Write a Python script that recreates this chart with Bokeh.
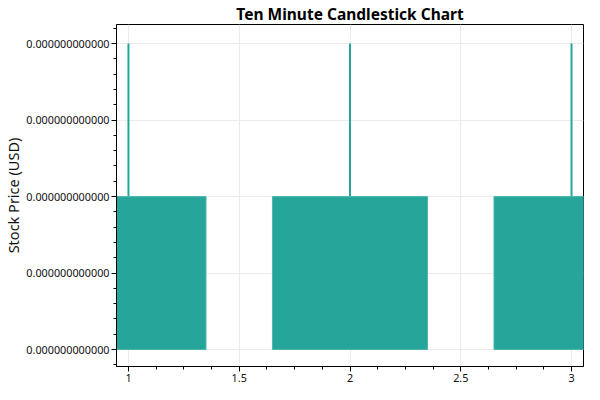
from bokeh.plotting import figure
from bokeh.models import SingleIntervalTicker, PrintfTickFormatter, Range1d, ColumnDataSource
from bokeh.embed import file_html
from bokeh.resources import INLINE

# Data (values are tiny; all tick labels print as zeros)
x_pos = [1, 2, 3]
open_v = [0.0, 0.0, 0.0]
close_v = [2e-15, 2e-15, 2e-15]
high_v = [4e-15, 4e-15, 4e-15]
low_v = [0.0, 0.0, 0.0]
title_text = "Ten Minute Candlestick Chart"
y_label = "Stock Price (USD)"

FONT = "Noto Sans"
TEAL = "#26A69A"

src = ColumnDataSource(dict(x=x_pos, open=open_v, close=close_v, high=high_v, low=low_v))

p = figure(frame_width=467, frame_height=342, output_backend="svg", toolbar_location=None,
           x_range=Range1d(0.946, 3.054), y_range=Range1d(-0.222e-15, 4.25e-15),
           min_border_left=110, min_border_right=7, min_border_top=17, min_border_bottom=25)

p.title.text = title_text
p.title.align = "center"
p.title.text_font = FONT
p.title.text_font_size = "15.5px"
p.title.text_font_style = "bold"
p.title.text_color = "#000000"
p.title.standoff = 0
p.title.offset = 0

p.segment(x0="x", y0="low", x1="x", y1="high", source=src, line_color=TEAL, line_width=2)
p.vbar(x="x", width=0.7, bottom="open", top="close", source=src,
       fill_color=TEAL, line_color="#4DB6AC", line_width=1)

p.xaxis.ticker = SingleIntervalTicker(interval=0.5, num_minor_ticks=4)
p.yaxis.ticker = SingleIntervalTicker(interval=1e-15, num_minor_ticks=5)
p.yaxis.formatter = PrintfTickFormatter(format="%.12f")
p.yaxis.axis_label = y_label

for ax in (p.xaxis[0], p.yaxis[0]):
    ax.axis_line_color = "#000000"
    ax.major_tick_line_color = "#000000"
    ax.minor_tick_line_color = "#000000"
    ax.major_label_text_font = FONT
    ax.major_label_text_font_size = "10.8px"
    ax.major_label_text_color = "#111111"
    ax.major_label_standoff = 2
    ax.axis_label_text_font = FONT
    ax.axis_label_text_font_size = "14.5px"
    ax.axis_label_text_font_style = "normal"
    ax.axis_label_text_color = "#111111"
    ax.axis_label_standoff = 0
    ax.major_tick_in = 0
    ax.major_tick_out = 5
    ax.minor_tick_in = 0
    ax.minor_tick_out = 3

p.outline_line_color = "#000000"
p.outline_line_alpha = 1
p.xgrid.grid_line_color = "#EBEBEB"
p.ygrid.grid_line_color = "#EBEBEB"
p.background_fill_color = "white"
p.border_fill_color = "white"

open("out.html", "w").write(file_html(p, INLINE))
